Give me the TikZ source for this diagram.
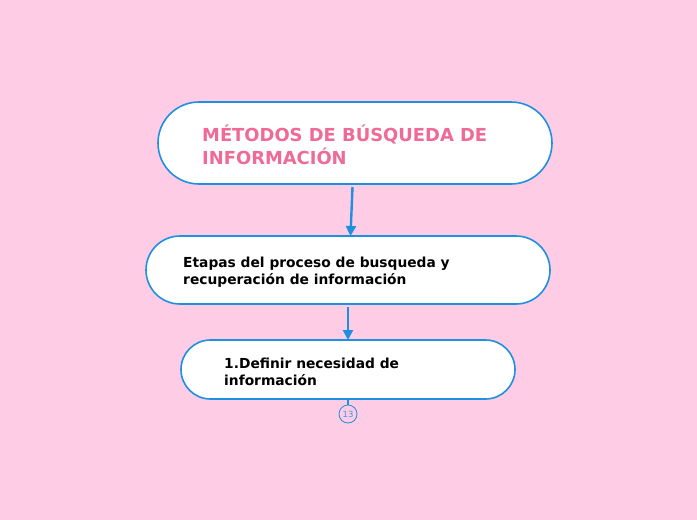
\documentclass[tikz,border=0pt]{standalone}
\usepackage{fontspec}
\setmainfont{DejaVu Sans}
\usetikzlibrary{arrows.meta}
\definecolor{bgpink}{HTML}{FFCCE5}
\definecolor{edgeblue}{HTML}{1E90E0}
\definecolor{titlepink}{HTML}{F06A96}
\definecolor{numblue}{HTML}{3A98E6}
\tikzset{
  pill/.style={draw=edgeblue, line width=1.6pt, fill=white, inner sep=0pt},
  lbl/.style={anchor=west, inner sep=0pt, align=left, font=\bfseries\fontsize{13.8}{17}\selectfont, text=black},
  ttl/.style={anchor=west, inner sep=0pt, align=left, font=\bfseries\fontsize{17.9}{23}\selectfont, text=titlepink},
  conn/.style={draw=edgeblue, line width=2.4pt, -{Triangle[width=10pt,length=10pt]}},
}
\begin{document}
\begin{tikzpicture}[x=1pt,y=-1pt]
\useasboundingbox[fill=bgpink] (0,0) rectangle (697,520);
\node[pill, minimum width=394pt, minimum height=82pt, rounded corners=41pt] (b1) at (355,143) {};
\node[pill, minimum width=404pt, minimum height=68pt, rounded corners=34pt] (b2) at (348,270) {};
\node[pill, minimum width=334pt, minimum height=59pt, rounded corners=29.5pt] (b3) at (348,369.5) {};
\node[ttl] (t1) at (202,145) {MÉTODOS DE BÚSQUEDA DE\\INFORMACIÓN};
\node[lbl] (t2) at (183,272.5) {Etapas del proceso de busqueda y\\recuperación de información};
\node[lbl] (t3) at (224,372) {1.Definir necesidad de\\información};
\coordinate (a1s) at (352.5,187);
\coordinate (a1e) at (350.5,236);
\coordinate (a2s) at (348,307);
\coordinate (a2e) at (348,340);
\draw[conn] (a1s) -- (a1e);
\draw[conn] (a2s) -- (a2e);
\node[circle, draw=edgeblue, line width=0.8pt, minimum size=18pt, inner sep=0pt, font=\fontsize{8.5}{8.5}\selectfont, text=numblue] (c) at (348,414) {13};
\draw[edgeblue, line width=1.6pt] (b3.south) -- (c.north);
\end{tikzpicture}
\end{document}
